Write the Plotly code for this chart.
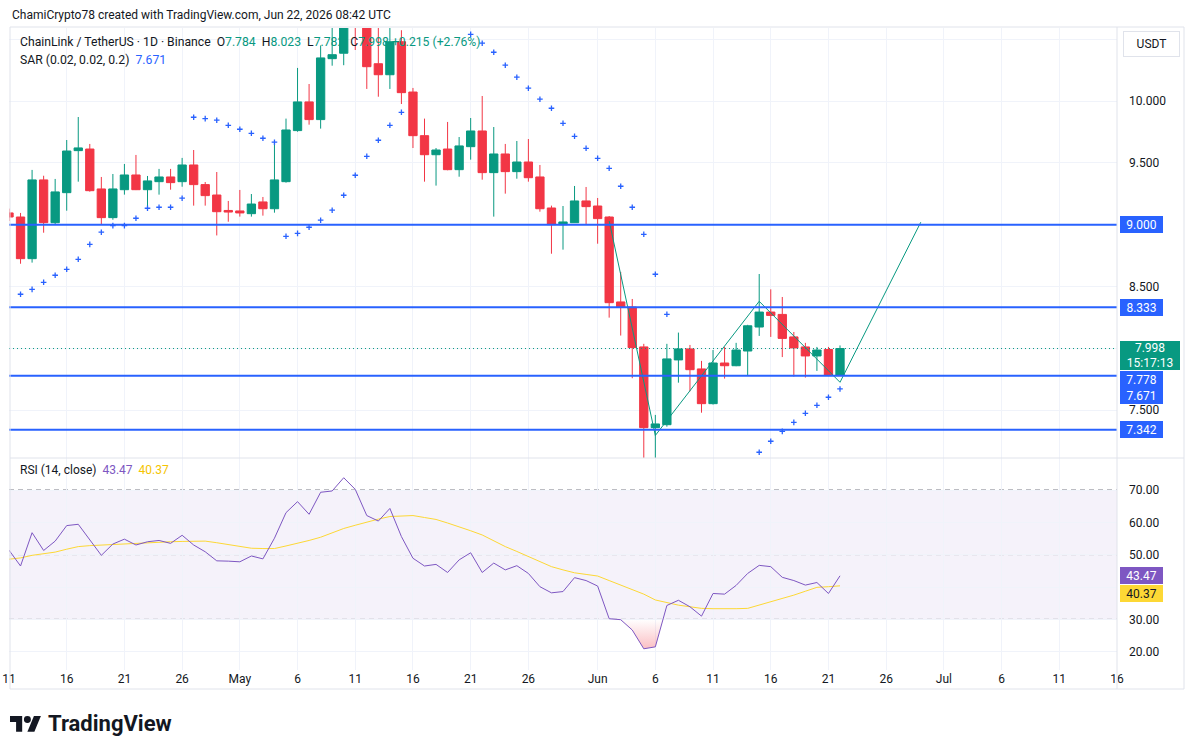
import pandas as pd
import plotly.graph_objects as go

# ---------------- data ----------------
dates = pd.date_range("2026-04-11", "2026-06-22", freq="D")

open_ = [9.095, 9.062, 8.725, 9.362, 9.016, 9.259, 9.599, 9.612, 9.289, 9.057,
         9.283, 9.402, 9.283, 9.348, 9.386, 9.348, 9.483, 9.324, 9.240, 9.115,
         9.111, 9.089, 9.184, 9.129, 9.348, 9.761, 9.993, 9.850, 10.343, 10.387,
         10.660, 10.620, 10.302, 10.213, 10.480, 10.073, 9.720, 9.566, 9.612, 9.445,
         9.631, 9.758, 9.421, 9.572, 9.429, 9.507, 9.386, 9.135, 9.000, 9.016, 9.192,
         9.151, 9.062, 8.375, 8.334, 8.011, 7.358, 7.382, 7.906, 7.995, 7.833,
         7.552, 7.881, 7.859, 7.978, 8.172, 8.293, 8.274, 8.092, 8.011, 7.938, 7.990, 7.784]
high = [9.130, 9.095, 9.443, 9.396, 9.370, 9.685, 9.871, 9.653, 9.386, 9.410,
        9.491, 9.564, 9.394, 9.451, 9.451, 9.540, 9.604, 9.345, 9.426, 9.192,
        9.281, 9.248, 9.224, 9.669, 9.858, 10.268, 10.138, 10.450, 10.620, 10.720,
        10.880, 10.700, 10.620, 10.620, 10.573, 10.106, 9.858, 9.620, 9.831, 9.709,
        9.863, 10.041, 9.790, 9.653, 9.677, 9.693, 9.483, 9.154, 9.151, 9.313, 9.305,
        9.216, 9.070, 8.618, 8.399, 8.036, 7.461, 8.036, 8.127, 8.027, 7.898,
        7.986, 8.011, 8.044, 8.190, 8.601, 8.477, 8.415, 8.132, 8.044, 8.011, 8.011, 8.023]
low = [9.030, 8.684, 8.693, 8.935, 9.000, 9.113, 9.348, 9.267, 9.000, 9.040,
       9.243, 9.280, 9.135, 9.243, 9.283, 9.307, 9.154, 9.154, 8.913, 9.024,
       9.065, 9.065, 9.073, 9.097, 9.340, 9.752, 9.809, 9.777, 10.286, 10.290,
       10.413, 10.098, 10.035, 10.098, 9.976, 9.620, 9.348, 9.316, 9.440, 9.388,
       9.526, 9.364, 9.065, 9.251, 9.372, 9.348, 9.105, 8.765, 8.798, 9.016, 9.000,
       8.846, 8.248, 8.103, 7.758, 7.020, 7.050, 7.366, 7.722, 7.652, 7.479,
       7.545, 7.755, 7.855, 7.779, 8.100, 8.092, 7.929, 7.771, 7.763, 7.817, 7.775, 7.782]
close = [9.062, 8.725, 9.362, 9.016, 9.265, 9.596, 9.621, 9.275, 9.057, 9.289,
         9.402, 9.283, 9.354, 9.386, 9.340, 9.483, 9.324, 9.235, 9.105, 9.102,
         9.095, 9.167, 9.129, 9.362, 9.766, 9.993, 9.850, 10.349, 10.375, 10.660,
         10.620, 10.278, 10.213, 10.480, 10.068, 9.720, 9.566, 9.604, 9.445, 9.637,
         9.758, 9.421, 9.572, 9.429, 9.507, 9.380, 9.129, 9.000, 9.022, 9.192, 9.146,
         9.049, 8.369, 8.334, 8.006, 7.358, 7.388, 7.914, 7.995, 7.827, 7.552,
         7.881, 7.859, 7.986, 8.182, 8.293, 8.266, 8.080, 8.003, 7.938, 7.986, 7.783, 7.998]
sar = [None, 8.437, 8.477, 8.534, 8.591, 8.639, 8.720, 8.841, 8.939, 8.992,
       8.992, 9.052, 9.133, 9.141, 9.141, 9.214, 9.869, 9.858, 9.845, 9.804,
       9.772, 9.739, 9.699, 9.667, 8.906, 8.930, 8.979, 9.036, 9.117, 9.238,
       9.400, 9.553, 9.683, 9.804, 9.909, 10.880, 10.810, 10.750, 10.690, 10.620,
       10.540, 10.468, 10.395, 10.290, 10.193, 10.104, 10.015, 9.942, 9.820, 9.715, 9.618,
       9.537, 9.456, 9.311, 9.141, 8.922, 8.599, 8.275, 7.020, 7.030, 7.040,
       7.050, 7.060, 7.070, 7.080, 7.159, 7.248, 7.328, 7.401, 7.474, 7.539, 7.604, 7.671]
rsi = [51.4, 46.5, 56.8, 51.3, 54.2, 59.0, 59.4, 54.5, 49.8, 53.3,
       54.8, 53.0, 54.0, 54.4, 53.5, 56.0, 53.0, 50.9, 48.1, 48.0,
       47.8, 49.6, 48.7, 55.1, 63.0, 66.4, 62.5, 69.3, 69.7, 73.8,
       70.2, 62.1, 60.4, 64.3, 55.6, 48.9, 46.5, 47.0, 44.5, 48.4,
       50.6, 44.5, 47.4, 45.3, 46.6, 44.2, 40.1, 38.2, 38.6, 42.9, 42.0,
       40.3, 30.2, 29.9, 26.7, 20.9, 21.5, 34.3, 35.9, 33.9, 31.0,
       38.0, 37.8, 40.5, 44.2, 46.7, 46.3, 43.0, 42.0, 40.6, 41.4, 38.0, 43.47]
rsi_ma = [48.6, 49.0, 49.8, 50.3, 50.8, 51.7, 52.5, 52.8, 53.0, 53.1,
          53.2, 53.4, 53.6, 53.8, 54.0, 54.1, 54.2, 54.2, 53.7, 53.2,
          52.6, 52.0, 51.9, 51.9, 52.7, 53.5, 54.4, 55.4, 56.8, 58.1,
          59.1, 60.1, 61.0, 61.8, 62.0, 62.1, 61.5, 60.9, 59.8, 58.7,
          57.4, 56.1, 54.3, 52.5, 51.0, 49.4, 47.8, 46.3, 45.3, 44.4, 43.9,
          43.4, 42.0, 40.6, 39.2, 37.8, 36.0, 35.2, 34.4, 33.9, 33.4,
          33.3, 33.2, 33.3, 33.4, 34.4, 35.5, 36.5, 37.5, 38.7, 39.9, 40.1, 40.37]

levels = [9.000, 8.333, 7.778, 7.342]
zz_dates = ["2026-06-02", "2026-06-06", "2026-06-15", "2026-06-22", "2026-06-29"]
zz_prices = [9.03, 7.295, 8.38, 7.725, 9.02]

tick_dates = ["2026-04-11", "2026-04-16", "2026-04-21", "2026-04-26", "2026-05-01",
              "2026-05-06", "2026-05-11", "2026-05-16", "2026-05-21", "2026-05-26",
              "2026-06-01", "2026-06-06", "2026-06-11", "2026-06-16", "2026-06-21",
              "2026-06-26", "2026-07-01", "2026-07-06", "2026-07-11", "2026-07-16"]
tick_text = ["11", "16", "21", "26", "May", "6", "11", "16", "21", "26",
             "Jun", "6", "11", "16", "21", "26", "Jul", "6", "11", "16"]
price_ticks = [7.5, 8.0, 8.5, 9.0, 9.5, 10.0, 10.5]
price_tick_text = ["7.500", "", "8.500", "", "9.500", "10.000", ""]
rsi_ticks = [20, 30, 40, 50, 60, 70]
rsi_tick_text = ["20.00", "30.00", "", "50.00", "60.00", "70.00"]
RSI_UPPER, RSI_MID, RSI_LOWER = 70, 50, 30
countdown = "15:17:13"

# ---------------- geometry helpers ----------------
W, H = 1195, 755
L, R, T, B = 9, 1117, 28, 670


def px(x):
    return (x - L) / (R - L)


def py(y):
    return (B - y) / (B - T)


split = py(458)
FONT = "Roboto, 'Noto Sans', sans-serif"
UP, DN, BLUE, PURPLE, YEL = "#089981", "#f23645", "#2962ff", "#7e57c2", "#fdd835"
TXT, GRID, BORDER = "#131722", "#f0f3fa", "#e0e3eb"

fig = go.Figure()

# zig-zag drawing (sits below candles)
fig.add_trace(go.Scatter(x=zz_dates, y=zz_prices, mode="lines",
                         line=dict(color=UP, width=1), xaxis="x", yaxis="y", hoverinfo="skip"))

fig.add_trace(go.Candlestick(
    x=dates, open=open_, high=high, low=low, close=close,
    increasing=dict(line=dict(color=UP, width=1), fillcolor=UP),
    decreasing=dict(line=dict(color=DN, width=1), fillcolor=DN),
    whiskerwidth=0, xaxis="x", yaxis="y", hoverinfo="skip"))

fig.add_trace(go.Scatter(x=dates, y=sar, mode="markers",
                         marker=dict(symbol="cross-thin", size=4, line=dict(color=BLUE, width=1.3)),
                         xaxis="x", yaxis="y", hoverinfo="skip"))

# oversold fill (RSI below the lower band)
fx, fy = [], []
for i, r in enumerate(rsi):
    if i > 0:
        r0 = rsi[i - 1]
        if (r0 - RSI_LOWER) * (r - RSI_LOWER) < 0:
            f = (RSI_LOWER - r0) / (r - r0)
            fx.append(dates[i - 1] + (dates[i] - dates[i - 1]) * f)
            fy.append(RSI_LOWER)
    fx.append(dates[i])
    fy.append(min(r, RSI_LOWER))
fig.add_trace(go.Scatter(x=fx, y=[RSI_LOWER] * len(fx), mode="lines", line=dict(width=0),
                         xaxis="x2", yaxis="y2", hoverinfo="skip"))
fig.add_trace(go.Scatter(x=fx, y=fy, mode="lines", line=dict(width=0), fill="tonexty",
                         fillgradient=dict(type="vertical", start=20, stop=RSI_LOWER,
                                           colorscale=[[0, "rgba(242,54,69,0.35)"],
                                                       [1, "rgba(242,54,69,0.0)"]]),
                         xaxis="x2", yaxis="y2", hoverinfo="skip"))
fig.add_trace(go.Scatter(x=dates, y=rsi_ma, mode="lines", line=dict(color=YEL, width=1),
                         xaxis="x2", yaxis="y2", hoverinfo="skip"))
fig.add_trace(go.Scatter(x=dates, y=rsi, mode="lines", line=dict(color=PURPLE, width=1),
                         xaxis="x2", yaxis="y2", hoverinfo="skip"))

x_range = ["2026-04-11", "2026-07-16"]
xcommon = dict(range=x_range, type="date", tickvals=tick_dates, ticktext=tick_text,
               showgrid=True, gridcolor=GRID, gridwidth=1, zeroline=False, ticks="",
               showline=False, fixedrange=True, automargin=False)

fig.update_layout(
    width=W, height=H, margin=dict(l=L, r=W - R, t=T, b=H - B, pad=0, autoexpand=False),
    paper_bgcolor="white", plot_bgcolor="white", showlegend=False,
    font=dict(family=FONT, size=12, color=TXT),
    boxgap=0.28, boxgroupgap=0,
    xaxis=dict(domain=[0, 1], anchor="y", showticklabels=False,
               rangeslider=dict(visible=False), **xcommon),
    xaxis2=dict(domain=[0, 1], anchor="y2", matches="x", showticklabels=True,
                tickfont=dict(size=12, color=TXT, family=FONT), **xcommon),
    yaxis=dict(domain=[split, 1], anchor="x", side="right", range=[7.1125, 10.591],
               tickvals=price_ticks, ticktext=price_tick_text, showgrid=True, gridcolor=GRID,
               zeroline=False, ticks="", ticklabelstandoff=11, automargin=False,
               tickfont=dict(size=12, color=TXT, family=FONT)),
    yaxis2=dict(domain=[0, split], anchor="x2", side="right", range=[14.34, 79.9],
                tickvals=rsi_ticks, ticktext=rsi_tick_text, showgrid=True, gridcolor=GRID,
                zeroline=False, ticks="", ticklabelstandoff=11, automargin=False,
                tickfont=dict(size=12, color=TXT, family=FONT)),
)

shapes = []
# RSI band + band lines
shapes.append(dict(type="rect", xref="x2 domain", yref="y2", x0=0, x1=1, y0=RSI_LOWER, y1=RSI_UPPER,
                   fillcolor="rgba(126,87,194,0.08)", line=dict(width=0), layer="below"))
for lvl, col in [(RSI_UPPER, "#787b86"), (RSI_MID, "rgba(120,123,134,0.55)"), (RSI_LOWER, "#787b86")]:
    shapes.append(dict(type="line", xref="x2 domain", yref="y2", x0=0, x1=1, y0=lvl, y1=lvl,
                       line=dict(color=col, width=1, dash="5px,4px"), layer="below"))
# horizontal levels
for lv in levels:
    shapes.append(dict(type="line", xref="x domain", yref="y", x0=0, x1=1, y0=lv, y1=lv,
                       line=dict(color=BLUE, width=2), layer="above"))
# last price dotted line
shapes.append(dict(type="line", xref="x domain", yref="y", x0=0, x1=1, y0=close[-1], y1=close[-1],
                   line=dict(color=UP, width=1, dash="1px,3px"), layer="above"))
# frame
shapes.append(dict(type="rect", xref="paper", yref="paper", x0=px(10), x1=px(1184), y0=py(689), y1=py(27),
                   line=dict(color=BORDER, width=1), fillcolor="rgba(0,0,0,0)", layer="above"))
shapes.append(dict(type="line", xref="paper", yref="paper", x0=1, x1=1, y0=py(689), y1=py(27),
                   line=dict(color=BORDER, width=1), layer="above"))
shapes.append(dict(type="line", xref="paper", yref="paper", x0=px(10), x1=px(1184), y0=split, y1=split,
                   line=dict(color=BORDER, width=1), layer="above"))
# TradingView logo
s = 0.87


def lp(sx, sy):
    return px(10 + s * sx), py(716 + s * (sy - 4))


def path(pts):
    return "M " + " L ".join(f"{a:.5f},{b:.5f}" for a, b in (lp(*p) for p in pts)) + " Z"


shapes.append(dict(type="path", xref="paper", yref="paper",
                   path=path([(14, 22), (7, 22), (7, 11), (0, 11), (0, 4), (14, 4)]),
                   fillcolor=TXT, line=dict(width=0)))
shapes.append(dict(type="path", xref="paper", yref="paper",
                   path=path([(28, 22), (20, 22), (27.5, 4), (35.5, 4)]),
                   fillcolor=TXT, line=dict(width=0)))
c0 = lp(16, 4)
c1 = lp(24, 12)
shapes.append(dict(type="circle", xref="paper", yref="paper", x0=c0[0], x1=c1[0], y0=c1[1], y1=c0[1],
                   fillcolor=TXT, line=dict(width=0)))
fig.update_layout(shapes=shapes)

ann = []
chg = close[-1] - close[-2]
pct = chg / close[-2] * 100
G = f"<span style='color:{UP}'>"
sp = "\u00a0"
ann.append(dict(x=px(10), y=py(14.5), xref="paper", yref="paper", xanchor="left", yanchor="middle",
                text="ChamiCrypto78 created with TradingView.com, Jun 22, 2026 08:42 UTC",
                showarrow=False, font=dict(size=12, color=TXT, family=FONT)))
ann.append(dict(x=px(18), y=py(42), xref="paper", yref="paper", xanchor="left", yanchor="middle",
                text=(f"ChainLink / TetherUS · 1D · Binance{sp}{sp}O{G}{open_[-1]:.3f}</span>{sp}{sp}"
                      f"H{G}{high[-1]:.3f}</span>{sp}{sp}L{G}{low[-1]:.3f}</span>{sp}{sp}"
                      f"C{G}{close[-1]:.3f}</span>{sp}{G}{chg:+.3f} ({pct:+.2f}%)</span>"),
                showarrow=False, font=dict(size=12.2, color=TXT, family=FONT)))
ann.append(dict(x=px(18), y=py(59.5), xref="paper", yref="paper", xanchor="left", yanchor="middle",
                text=f"SAR (0.02, 0.02, 0.2){sp}{sp}<span style='color:{BLUE}'>{sar[-1]:.3f}</span>",
                showarrow=False, font=dict(size=12.2, color=TXT, family=FONT)))
ann.append(dict(x=px(18), y=py(470), xref="paper", yref="paper", xanchor="left", yanchor="middle",
                text=(f"RSI (14, close){sp}{sp}<span style='color:{PURPLE}'>{rsi[-1]:.2f}</span>{sp}{sp}"
                      f"<span style='color:#f5c400'>{rsi_ma[-1]:.2f}</span>"),
                showarrow=False, font=dict(size=12, color=TXT, family=FONT)))
ann.append(dict(x=px(46), y=py(724), xref="paper", yref="paper", xanchor="left", yanchor="middle",
                text="<b>TradingView</b>", showarrow=False, font=dict(size=22, color=TXT, family=FONT)))


def box(text, y, yref, bg, fg, yshift=0, w=43, h=17, yanchor="middle"):
    return dict(x=px(1120), xref="paper", xanchor="left", y=y, yref=yref, yanchor=yanchor,
                yshift=yshift, text=text, showarrow=False, bgcolor=bg, borderwidth=0, borderpad=0,
                width=w, height=h, align="center", valign="middle",
                font=dict(size=12, color=fg, family=FONT))


ann.append(dict(x=px(1123), xref="paper", xanchor="left", y=py(44), yref="paper", yanchor="middle",
                text="USDT", showarrow=False, bgcolor="white", bordercolor=BORDER, borderwidth=1,
                borderpad=0, width=55, height=24, font=dict(size=12, color=TXT, family=FONT)))
ann.append(box(f"{levels[0]:.3f}", levels[0], "y", BLUE, "white"))
ann.append(box(f"{levels[1]:.3f}", levels[1], "y", BLUE, "white"))
ann.append(box(f"{close[-1]:.3f}<br>{countdown}", close[-1], "y", UP, "white",
               yshift=7.5, w=60, h=29, yanchor="top"))
ann.append(box(f"{levels[2]:.3f}", levels[2], "y", BLUE, "white", yshift=-3.5))
ann.append(box(f"{sar[-1]:.3f}", sar[-1], "y", BLUE, "white", yshift=-6.4))
ann.append(box(f"{levels[3]:.3f}", levels[3], "y", BLUE, "white"))
ann.append(box(f"{rsi[-1]:.2f}", rsi[-1], "y2", PURPLE, "white"))
ann.append(box(f"{rsi_ma[-1]:.2f}", rsi_ma[-1], "y2", YEL, TXT, yshift=-7.5))
fig.update_layout(annotations=ann)

fig.write_html("out.html")
